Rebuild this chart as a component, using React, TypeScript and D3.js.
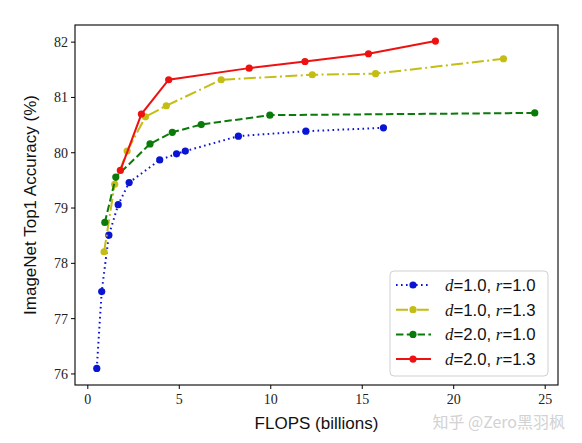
import { useEffect } from "react";
import * as d3 from "d3";

// FLOPS (billions) / top-1 accuracy
const blueX = [0.49, 0.76, 1.15, 1.66, 2.26, 3.93, 4.85, 5.33, 8.23, 11.92, 16.16];
const blueY = [76.1, 77.49, 78.51, 79.06, 79.46, 79.87, 79.98, 80.03, 80.3, 80.39, 80.45];

const yellowX = [0.89, 1.47, 2.15, 3.15, 4.29, 7.29, 12.27, 15.73, 22.72];
const yellowY = [78.21, 79.43, 80.03, 80.65, 80.85, 81.32, 81.41, 81.43, 81.7];

const greenX = [0.93, 1.53, 3.4, 4.62, 6.2, 9.95, 24.43];
const greenY = [78.74, 79.56, 80.16, 80.37, 80.51, 80.68, 80.72];

const redX = [1.78, 2.93, 4.42, 8.82, 11.87, 15.34, 19.0];
const redY = [79.68, 80.7, 81.32, 81.53, 81.65, 81.79, 82.02];

const xTicks = [0, 5, 10, 15, 20, 25];
const yTicks = [76, 77, 78, 79, 80, 81, 82];

const seriesLabels = [
  { d: "1.0", r: "1.0" },
  { d: "1.0", r: "1.3" },
  { d: "2.0", r: "1.0" },
  { d: "2.0", r: "1.3" },
];

const W = 582;
const H = 443;
const margin = { top: 25, right: 24, bottom: 58, left: 75 };

const series = [
  { xs: blueX, ys: blueY, color: "#0a14d4", dash: "1.6,3.4" },
  { xs: yellowX, ys: yellowY, color: "#c4bd14", dash: "12,3.4,2,3.4" },
  { xs: greenX, ys: greenY, color: "#0a7a0a", dash: "7.4,3.4" },
  { xs: redX, ys: redY, color: "#ee1111", dash: "none" },
];

const serif = "'Liberation Serif', 'DejaVu Serif', serif";
const sans = "'Liberation Sans', Arial, sans-serif";

export default function App() {
  useEffect(() => {
    document.body.style.margin = "0";
  }, []);

  const x = d3.scaleLinear().domain([-0.7, 25.7]).range([margin.left, W - margin.right]);
  const y = d3.scaleLinear().domain([75.8, 82.31]).range([H - margin.bottom, margin.top]);

  const line = d3
    .line<[number, number]>()
    .x((d) => x(d[0]))
    .y((d) => y(d[1]));

  const x0 = margin.left;
  const x1 = W - margin.right;
  const y0 = H - margin.bottom;
  const y1 = margin.top;

  const lg = { x: 390, y: 271, w: 158, h: 105 };

  return (
    <svg width={W} height={H} style={{ display: "block", background: "#fff" }}>
      {/* series */}
      {series.map((s, i) => {
        const pts = s.xs.map((v, j) => [v, s.ys[j]] as [number, number]);
        return (
          <g key={i}>
            <path
              d={line(pts) ?? ""}
              fill="none"
              stroke={s.color}
              strokeWidth={2}
              strokeDasharray={s.dash}
            />
            {pts.map((p, j) => (
              <circle key={j} cx={x(p[0])} cy={y(p[1])} r={3.6} fill={s.color} />
            ))}
          </g>
        );
      })}

      {/* frame */}
      <rect x={x0} y={y1} width={x1 - x0} height={y0 - y1} fill="none" stroke="#000" strokeWidth={1.1} />

      {/* x ticks */}
      {xTicks.map((t) => (
        <g key={t} transform={`translate(${x(t)},${y0})`}>
          <line y2={4} stroke="#000" strokeWidth={1} />
          <text y={19} textAnchor="middle" fontFamily={serif} fontSize={14} fill="#222">
            {t}
          </text>
        </g>
      ))}

      {/* y ticks */}
      {yTicks.map((t) => (
        <g key={t} transform={`translate(${x0},${y(t)})`}>
          <line x2={-4} stroke="#000" strokeWidth={1} />
          <text x={-7} dy="0.35em" textAnchor="end" fontFamily={serif} fontSize={14} fill="#222">
            {t}
          </text>
        </g>
      ))}

      {/* axis labels */}
      <text x={(x0 + x1) / 2} y={429} textAnchor="middle" fontFamily={sans} fontSize={17} fill="#111">
        FLOPS (billions)
      </text>
      <text
        transform={`translate(36,${(y0 + y1) / 2}) rotate(-90)`}
        textAnchor="middle"
        fontFamily={sans}
        fontSize={17}
        fill="#111"
      >
        ImageNet Top1 Accuracy (%)
      </text>

      {/* legend */}
      <rect
        x={lg.x}
        y={lg.y}
        width={lg.w}
        height={lg.h}
        rx={4}
        fill="#fff"
        fillOpacity={0.85}
        stroke="#d0d0d0"
        strokeWidth={1}
      />
      {series.map((s, i) => {
        const cy = 285 + i * 24.7;
        return (
          <g key={i}>
            <line
              x1={396}
              x2={431}
              y1={cy}
              y2={cy}
              stroke={s.color}
              strokeWidth={2}
              strokeDasharray={s.dash}
            />
            <circle cx={413} cy={cy} r={3.6} fill={s.color} />
            <text x={445} y={cy} dy="0.36em" fontFamily={sans} fontSize={16.8} fill="#111">
              <tspan fontFamily={serif} fontStyle="italic">d</tspan>
              {`=${seriesLabels[i].d}, `}
              <tspan fontFamily={serif} fontStyle="italic">r</tspan>
              {`=${seriesLabels[i].r}`}
            </text>
          </g>
        );
      })}

      {/* watermark */}
      <text
        x={565}
        y={428}
        textAnchor="end"
        fontFamily="'Noto Sans CJK SC', sans-serif"
        fontSize={16}
        fill="#d2d2d2"
      >
        知乎 @Zero黑羽枫
      </text>
    </svg>
  );
}
